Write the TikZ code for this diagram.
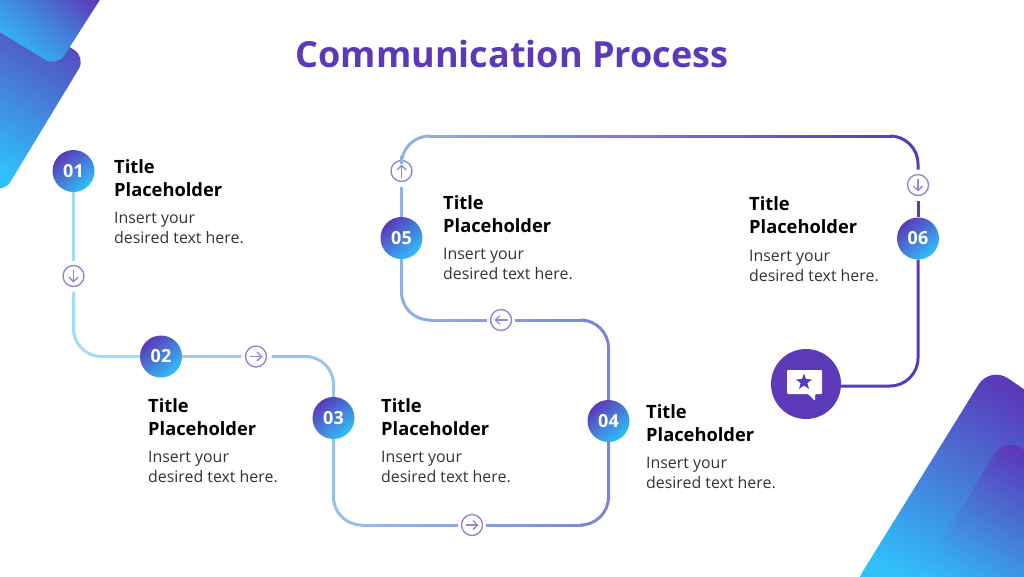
\documentclass[tikz,border=0pt]{standalone}
\usepackage{fontspec}
\setmainfont{Open Sans}
\usetikzlibrary{calc,arrows.meta,shapes.geometric}
\definecolor{procpurple}{HTML}{5B39B8}
\definecolor{procsky}{HTML}{2FC0FA}
\definecolor{wirelight}{HTML}{A3DCF7}
\definecolor{markline}{HTML}{8F88D2}
\definecolor{bodygray}{HTML}{333333}
\tikzset{
  numdot/.style={circle,minimum size=42pt,inner sep=0pt,left color=procpurple,right color=procsky,shading angle=40,text=white,font=\fontsize{18}{20}\selectfont\bfseries},
  markdot/.style={circle,draw=markline,line width=1.4pt,fill=white,minimum size=21pt,inner sep=0pt,outer sep=5pt},
  markarrow/.style={draw=markline,line width=1.4pt,-{Straight Barb[length=4.5pt,width=9pt]}},
  wire/.style={line width=3pt,rounded corners=28pt},
  titletext/.style={anchor=west,align=left,inner sep=0pt,font=\fontsize{18.3}{23}\selectfont\bfseries},
  bodytext/.style={anchor=west,align=left,inner sep=0pt,text=bodygray,font=\fontsize{15.9}{20}\selectfont},
  blob/.style={left color=procsky,right color=procpurple,shading angle=150,rounded corners=14pt}
}
% run of line whose colour changes along it
\newcommand{\wirerun}[4]{
  \foreach \i in {1,...,16} {
    \pgfmathsetmacro{\tA}{(\i-1)/16}
    \pgfmathsetmacro{\tB}{\i/16}
    \pgfmathsetmacro{\mixp}{#3+(#4-#3)*(\i-.5)/16}
    \draw[line width=3pt,line cap=rect,draw=procpurple!\mixp!wirelight] ($(#1)!\tA!(#2)$) -- ($(#1)!\tB!(#2)$);
  }
}
\newcommand{\arrowin}[2]{\draw[markarrow,shift={(#1)},rotate=#2] (-6.5,0) -- (6.5,0);}
\begin{document}
\begin{tikzpicture}[x=1pt,y=-1pt]
\useasboundingbox (0,0) rectangle (1024,576);
% corner shapes
\shade[blob] (-20,-7) -- (86,57) -- (3,194) -- (-20,180) -- cycle;
\shade[blob,middle color=procsky!55!procpurple,shading angle=140] (-10,26) -- (57,67) -- (110,-16) -- (-10,-16) -- cycle;
\shade[blob,rounded corners=22pt] (850,592) -- (990,366) -- (1050,407) -- (1050,592) -- cycle;
\shade[blob,rounded corners=20pt] (905,600) -- (1005,437) -- (1050,468) -- (1050,600) -- cycle;
\node[anchor=center,text=procpurple,font=\fontsize{36}{40}\selectfont\bfseries] (head) at (512,54) {Communication Process};
% steps
\node[numdot] (n01) at (73.5,171) {01};
\node[numdot] (n02) at (161,356.5) {02};
\node[numdot] (n03) at (333.5,418) {03};
\node[numdot] (n04) at (608.5,421) {04};
\node[numdot] (n05) at (401.5,238) {05};
\node[numdot] (n06) at (918,238.5) {06};
\node[markdot] (ar1) at (73.5,276) {};
\node[markdot] (ar2) at (256,356.5) {};
\node[markdot] (ar3) at (472,525) {};
\node[markdot] (ar4) at (501,320) {};
\node[markdot] (ar5) at (401.5,171) {};
\node[markdot] (ar6) at (918,185) {};
\arrowin{ar1}{-90}
\arrowin{ar2}{0}
\arrowin{ar3}{0}
\arrowin{ar4}{180}
\arrowin{ar5}{90}
\arrowin{ar6}{-90}
% last step
\node[circle,fill=procpurple,minimum size=70pt,inner sep=0pt] (bubble) at (806,384) {};
\coordinate (bubblein) at (835,386);
\fill[white,rounded corners=1pt] (787,370) -- (822,370) -- (822,394) -- (815,394) -- (815,401) -- (808,394) -- (787,394) -- cycle;
\node[star,star points=5,star point ratio=2.4,fill=procpurple,minimum size=17pt,inner sep=0pt] (bubblestar) at (804,382) {};
% line
\coordinate (b1) at (362,525);
\coordinate (b2) at (581,525);
\coordinate (c1) at (581,320);
\coordinate (c2) at (430,320);
\coordinate (t1) at (430,136);
\coordinate (t2) at (890,136);
\draw[wire,draw=wirelight] (n01) -- (ar1);
\draw[wire,draw=wirelight] (ar1.south) |- (n02.west);
\draw[wire,draw=procpurple!9!wirelight] (n02) -- (ar2);
\draw[wire,draw=procpurple!15!wirelight] (ar2.east) -| (n03.north);
\draw[wire,draw=procpurple!18!wirelight] (n03.south) |- (b1);
\wirerun{b1}{ar3.west}{20}{33}
\wirerun{ar3.east}{b2}{37}{50}
\draw[wire,draw=procpurple!53!wirelight] (b2) -| (n04.south);
\draw[wire,draw=procpurple!53!wirelight] (n04.north) |- (c1);
\wirerun{c1}{ar4.east}{50}{42}
\wirerun{ar4.west}{c2}{38}{30}
\draw[wire,draw=procpurple!28!wirelight] (c2) -| (n05.south);
\draw[wire,draw=procpurple!25!wirelight] (n05) -- (ar5);
\draw[wire,draw=procpurple!27!wirelight] (ar5.north) |- (t1);
\wirerun{t1}{t2}{30}{97}
\draw[wire,draw=procpurple] (t2) -| (ar6.north);
\draw[wire,draw=procpurple] (ar6) -- (n06);
\draw[wire,draw=procpurple] (n06.south) |- (bubblein);
% texts
\node[titletext] (title1) at (114,178.2) {Title\\Placeholder};
\node[bodytext] (body1) at (114,227.7) {Insert your\\desired text here.};
\node[titletext] (title2) at (148,417.2) {Title\\Placeholder};
\node[bodytext] (body2) at (148,467.2) {Insert your\\desired text here.};
\node[titletext] (title3) at (381,417.2) {Title\\Placeholder};
\node[bodytext] (body3) at (381,467.2) {Insert your\\desired text here.};
\node[titletext] (title4) at (646,423.2) {Title\\Placeholder};
\node[bodytext] (body4) at (646,472.7) {Insert your\\desired text here.};
\node[titletext] (title5) at (443,214.2) {Title\\Placeholder};
\node[bodytext] (body5) at (443,263.7) {Insert your\\desired text here.};
\node[titletext] (title6) at (749,215.2) {Title\\Placeholder};
\node[bodytext] (body6) at (749,265.7) {Insert your\\desired text here.};
\end{tikzpicture}
\end{document}
